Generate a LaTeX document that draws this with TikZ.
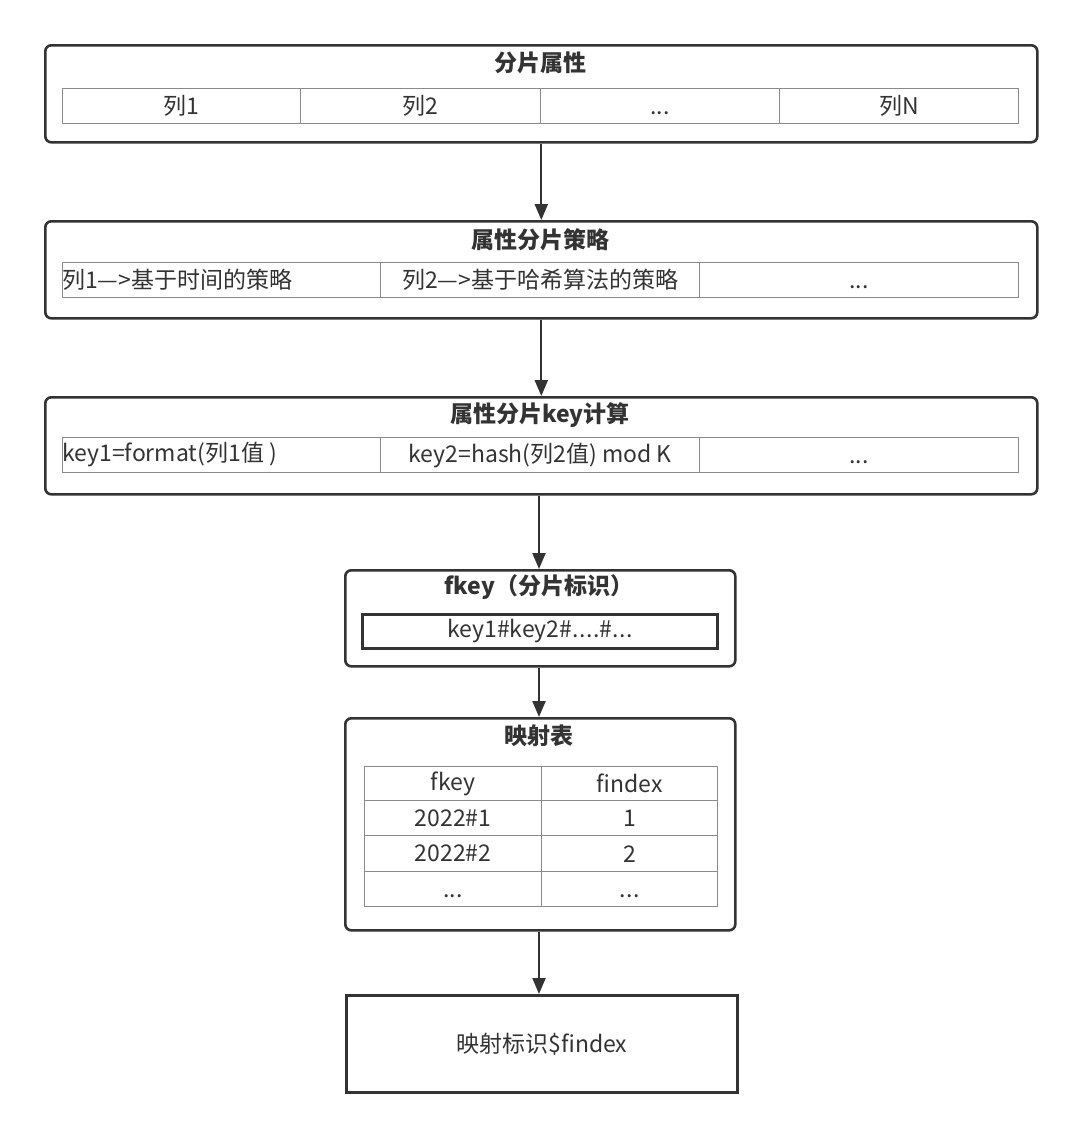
\documentclass[tikz,border=0pt]{standalone}
\usepackage{fontspec}
\setmainfont{Noto Sans CJK SC}
\usetikzlibrary{arrows.meta}
\definecolor{ink}{HTML}{333333}
\definecolor{cellline}{HTML}{8A8A8A}
\newcommand\tdots{\vphantom{列}.\kern0.5pt.\kern0.5pt.}
\tikzset{
  outerbox/.style={draw=ink, line width=2.6pt, rounded corners=6pt, fill=white, anchor=north west, inner sep=0pt},
  plainbox/.style={draw=ink, line width=2.8pt, fill=white, anchor=north west, inner sep=0pt},
  cell/.style={draw=cellline, line width=1.4pt, anchor=north west, inner sep=0pt, text=ink, font=\fontsize{23}{27}\selectfont},
  freetext/.style={anchor=west, inner sep=0pt, text=ink, font=\fontsize{23}{27}\selectfont},
  title/.style={text=ink, font=\fontsize{23}{27}\selectfont\bfseries, inner sep=0pt},
  flow/.style={draw=ink, line width=2.2pt, -{Triangle[length=16pt,width=13pt]}}
}
\begin{document}
\begin{tikzpicture}[x=1pt,y=-1pt]
\useasboundingbox[fill=white] (0,0) rectangle (1080,1135);

% box 1
\node[outerbox, minimum width=992pt, minimum height=97pt] (b1) at (44,44) {};
\node[title] (t1) at (540,63) {分片属性};
\node[cell, minimum width=238pt, minimum height=35pt] (c11) at (62,88) {列1};
\node[cell, minimum width=240pt, minimum height=35pt] (c12) at (300,88) {列2};
\node[cell, minimum width=239pt, minimum height=35pt] (c13) at (540,88) {\tdots};
\node[cell, minimum width=239pt, minimum height=35pt] (c14) at (779,88) {列N};

% box 2
\node[outerbox, minimum width=992pt, minimum height=97pt] (b2) at (44,220) {};
\node[title] (t2) at (540,240) {属性分片策略};
\node[cell, minimum width=318pt, minimum height=35pt] (c21) at (62,262) {};
\node[freetext] (l21) at (62,280) {列1—>基于时间的策略};
\node[cell, minimum width=319pt, minimum height=35pt] (c22) at (380,262) {列2—>基于哈希算法的策略};
\node[cell, minimum width=319pt, minimum height=35pt] (c23) at (699,262) {\tdots};

% box 3
\node[outerbox, minimum width=992pt, minimum height=97pt] (b3) at (44,396) {};
\node[title] (t3) at (540,415) {属性分片key计算};
\node[cell, minimum width=318pt, minimum height=35pt] (c31) at (62,437) {};
\node[freetext] (l31) at (62,455) {key1=format(列1值 )};
\node[cell, minimum width=319pt, minimum height=35pt] (c32) at (380,437) {key2=hash(列2值) mod K};
\node[cell, minimum width=319pt, minimum height=35pt] (c33) at (699,437) {\tdots};

% box 4
\node[outerbox, minimum width=390pt, minimum height=96pt] (b4) at (344,569) {};
\node[title] (t4) at (539,587) {fkey（分片标识）};
\node[cell, draw=ink, line width=2.6pt, minimum width=355pt, minimum height=34pt] (c41) at (361,613) {key1\#key2\#.\kern0.5pt.\kern0.5pt.\kern0.5pt.\#.\kern0.5pt.\kern0.5pt.};

% box 5
\node[outerbox, minimum width=390pt, minimum height=212pt] (b5) at (344,717) {};
\node[title] (t5) at (539,736) {映射表};
\node[cell, minimum width=177pt, minimum height=34pt] (r11) at (364,766) {fkey};
\node[cell, minimum width=176pt, minimum height=34pt] (r12) at (541,766) {findex};
\node[cell, minimum width=177pt, minimum height=35pt] (r21) at (364,800) {2022\#1};
\node[cell, minimum width=176pt, minimum height=35pt] (r22) at (541,800) {1};
\node[cell, minimum width=177pt, minimum height=36pt] (r31) at (364,835) {2022\#2};
\node[cell, minimum width=176pt, minimum height=36pt] (r32) at (541,835) {2};
\node[cell, minimum width=177pt, minimum height=35pt] (r41) at (364,871) {\tdots};
\node[cell, minimum width=176pt, minimum height=35pt] (r42) at (541,871) {\tdots};

% box 6
\node[plainbox, minimum width=391pt, minimum height=97pt, text=ink, font=\fontsize{23}{27}\selectfont] (b6) at (345,994) {映射标识\$findex};

% connectors
\draw[flow] (b1.south) -- (b2.north);
\draw[flow] (b2.south) -- (b3.north);
\draw[flow] (b3.south -| t4) -- (b4.north -| t4);
\draw[flow] (b4.south -| t4) -- (b5.north -| t4);
\draw[flow] (b5.south -| t4) -- (b6.north -| t4);
\end{tikzpicture}
\end{document}
